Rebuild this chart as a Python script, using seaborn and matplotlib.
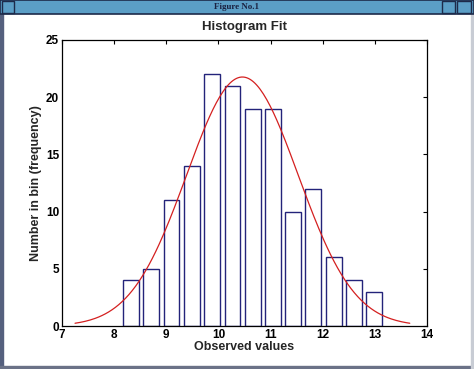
import numpy as np
import pandas as pd
import matplotlib
matplotlib.use("Agg")
import matplotlib.pyplot as plt
from matplotlib.patches import Rectangle
import seaborn as sns

# histogram bins (centres) and counts
bin_centers = [8.32, 8.71, 9.10, 9.49, 9.88, 10.27, 10.66,
               11.04, 11.43, 11.82, 12.21, 12.60, 12.99]
counts = [4, 5, 11, 14, 22, 21, 19, 19, 10, 12, 6, 4, 3]

# fitted normal (histfit style: mean +/- 3 sigma)
fit_mean = 10.46
fit_sigma = 1.07

x_ticks = [7, 8, 9, 10, 11, 12, 13, 14]
y_ticks = [0, 5, 10, 15, 20, 25]

sns.set_style("white")
plt.rcParams["font.family"] = ["Liberation Sans", "DejaVu Sans"]

df = pd.DataFrame({"x": bin_centers, "n": counts})

n_total = sum(counts)
bin_w = (bin_centers[-1] - bin_centers[0]) / (len(bin_centers) - 1)
xs = np.linspace(fit_mean - 3 * fit_sigma, fit_mean + 3 * fit_sigma, 200)
ys = n_total * bin_w * np.exp(-0.5 * ((xs - fit_mean) / fit_sigma) ** 2) / (fit_sigma * np.sqrt(2 * np.pi))
fit_df = pd.DataFrame({"x": xs, "y": ys})

fig = plt.figure(figsize=(4.74, 3.69), dpi=100)
ax = fig.add_axes([0.1308, 0.1165, 0.770, 0.7751])

sns.barplot(data=df, x="x", y="n", native_scale=True, width=0.8,
            color="white", edgecolor="#23237a", linewidth=1.0, ax=ax)
sns.lineplot(data=fit_df, x="x", y="y", color="#d42020", linewidth=0.9, ax=ax)

ax.set_xlim(7, 14)
ax.set_ylim(0, 25)
ax.set_xticks(x_ticks)
ax.set_yticks(y_ticks)
ax.tick_params(direction="in", length=3, width=0.8, top=True, right=True,
               labelsize=8.5, pad=2, colors="black")
for lab in ax.get_xticklabels() + ax.get_yticklabels():
    lab.set_fontweight("bold")
for s in ax.spines.values():
    s.set_visible(True)
    s.set_color("black")
    s.set_linewidth(0.9)

ax.set_title("Histogram Fit", fontsize=9.5, fontweight="bold", pad=7)
ax.set_xlabel("Observed values", fontsize=9, fontweight="bold", labelpad=0)
ax.set_ylabel("Number in bin (frequency)", fontsize=9, fontweight="bold", labelpad=3)

# window frame
fig.patches.append(Rectangle((0, 0), 3 / 474, 1, transform=fig.transFigure,
                             color="#55607e", zorder=0))
fig.patches.append(Rectangle((0, 0), 1, 3 / 369, transform=fig.transFigure,
                             color="#6b7287", zorder=0))
fig.patches.append(Rectangle((471 / 474, 0), 3 / 474, 1, transform=fig.transFigure,
                             color="#c8ccd4", zorder=0))
fig.patches.append(Rectangle((0, 1 - 14 / 369), 1, 14 / 369, transform=fig.transFigure,
                             facecolor="#5b9ec6", edgecolor="#1d2a4a", linewidth=1.2, zorder=0))
fig.patches.append(Rectangle((2 / 474, 1 - 13 / 369), 12 / 474, 12 / 369, transform=fig.transFigure,
                             facecolor="#5b9ec6", edgecolor="#1d2a4a", linewidth=1.0, zorder=1))
fig.patches.append(Rectangle((442 / 474, 1 - 13 / 369), 13 / 474, 12 / 369, transform=fig.transFigure,
                             facecolor="#5b9ec6", edgecolor="#1d2a4a", linewidth=1.0, zorder=1))
fig.patches.append(Rectangle((457 / 474, 1 - 13 / 369), 14 / 474, 12 / 369, transform=fig.transFigure,
                             facecolor="#5b9ec6", edgecolor="#1d2a4a", linewidth=1.0, zorder=1))
fig.text(0.5, 1 - 7 / 369, "Figure No.1", ha="center", va="center",
         fontsize=6.5, fontweight="bold", family="Liberation Serif", color="#1a2040")

plt.savefig("out.png", dpi=100)
